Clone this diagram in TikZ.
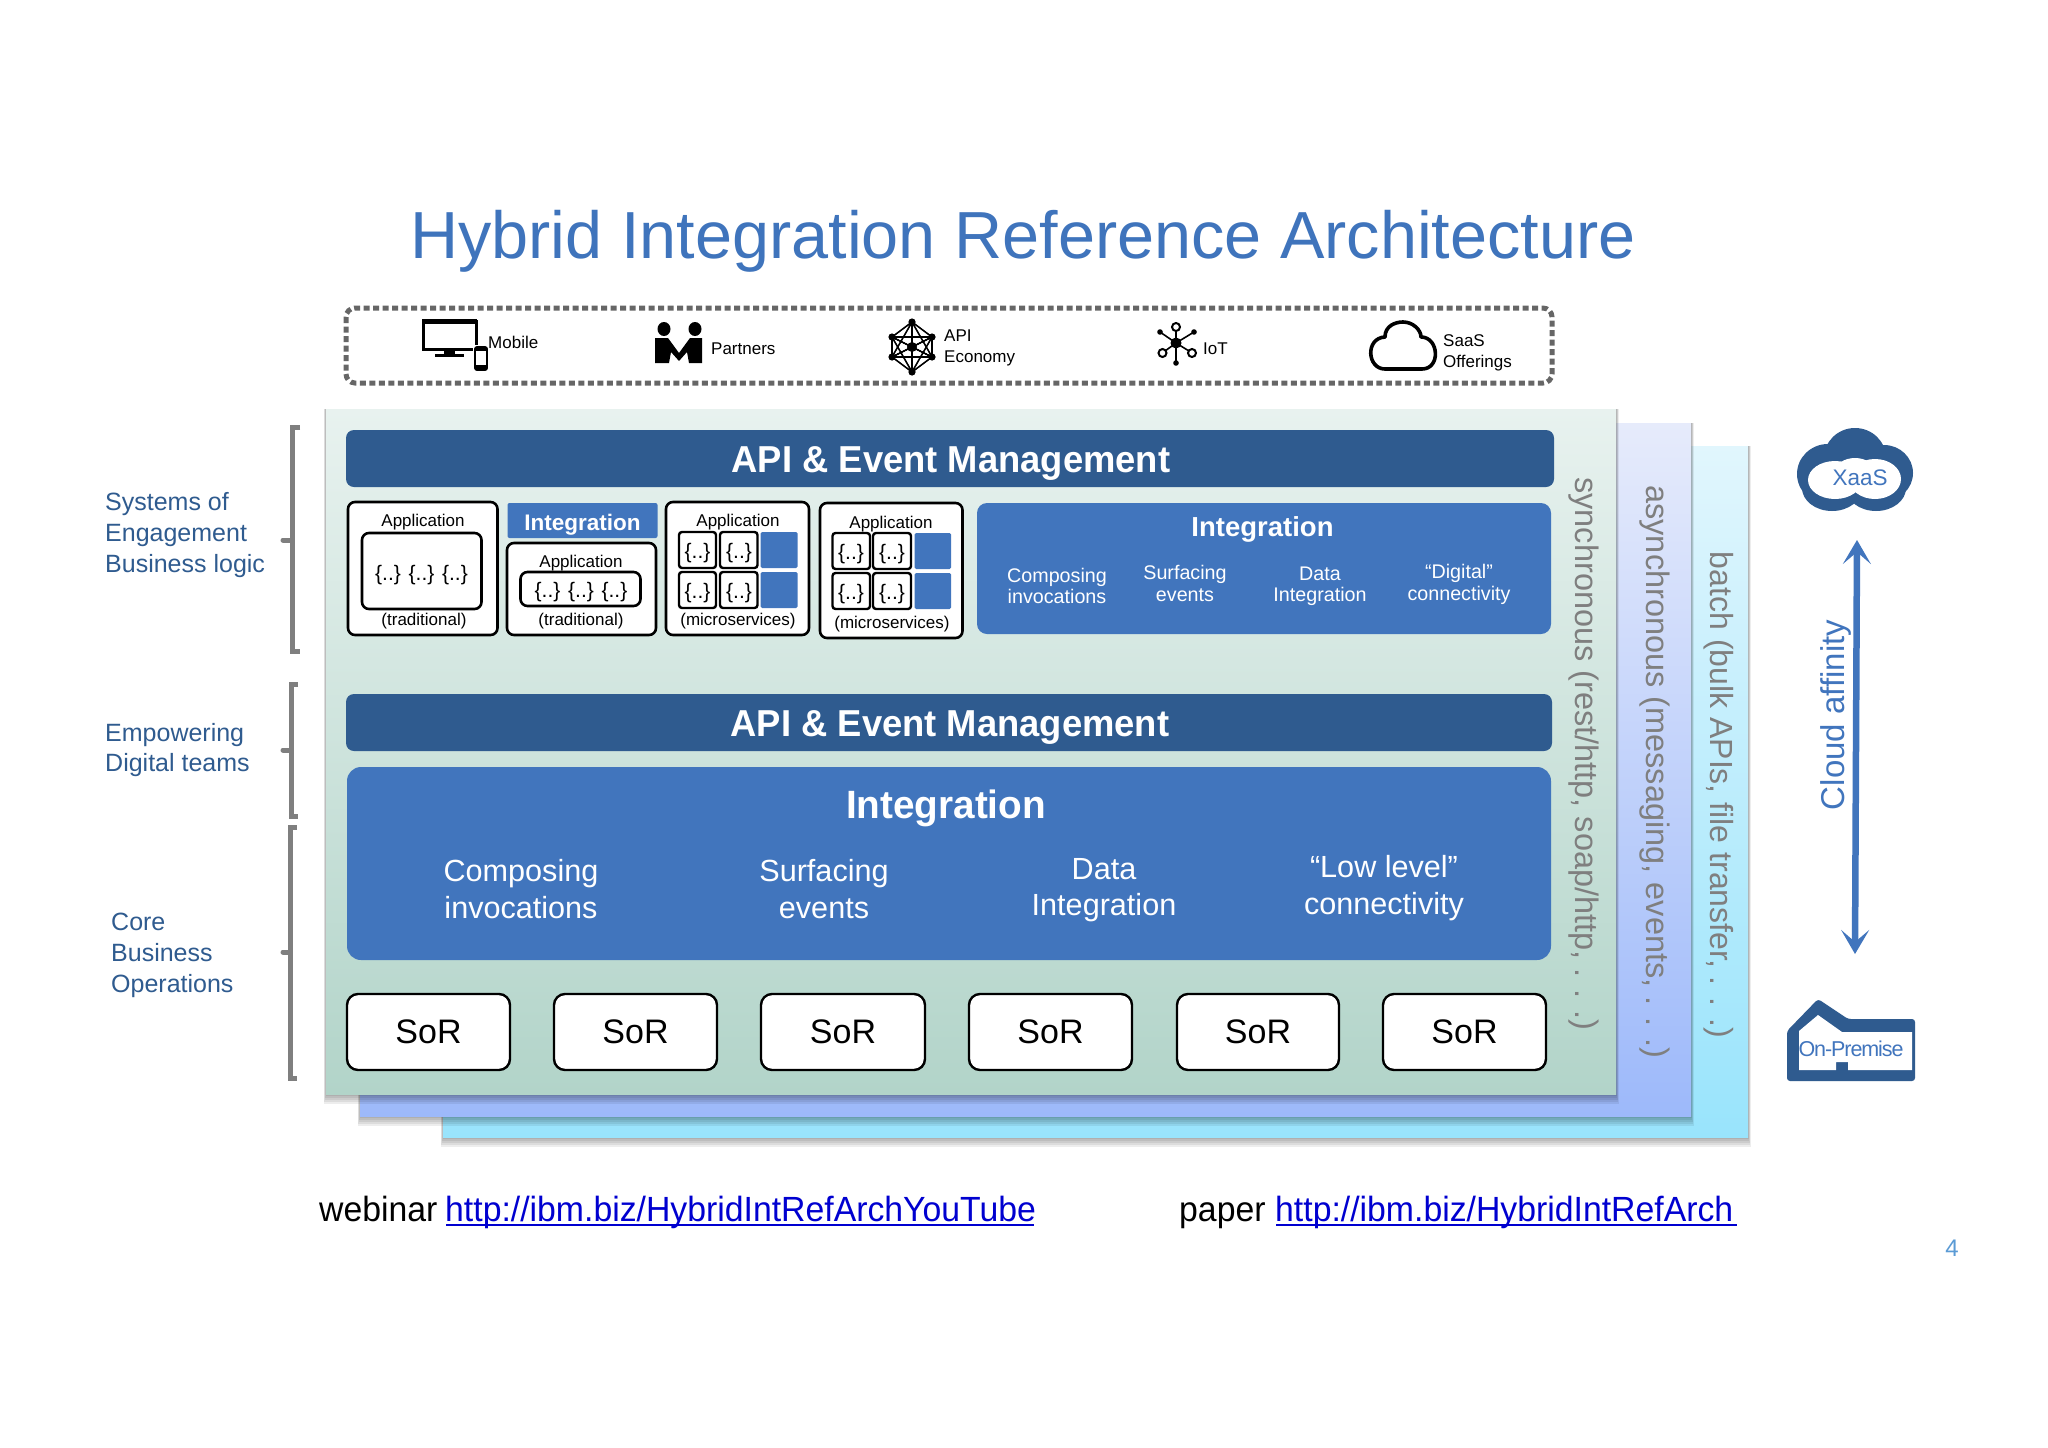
\documentclass[tikz,border=0pt]{standalone}
\usepackage{fontspec}
\setmainfont{Liberation Sans}
\usetikzlibrary{arrows.meta}
\definecolor{dkblue}{HTML}{2F5B8F}
\definecolor{midblue}{HTML}{4175BD}
\definecolor{sidegray}{HTML}{7F7F7F}
\definecolor{linkblue}{HTML}{0000D0}
\definecolor{titleblue}{HTML}{3F74BC}
\tikzset{
  fs/.style 2 args={font=\fontsize{#1}{#2}\selectfont},
  wt/.style={text=white,inner sep=0pt,align=center,yshift=-2.5pt},
  bt/.style={text=black,inner sep=0pt,align=center,yshift=-2.5pt},
  lbl/.style={text=dkblue,inner sep=0pt,align=left,anchor=west,fs={25}{31}},
  icontxt/.style={text=black,inner sep=0pt,align=left,anchor=west,fs={17}{21}},
  sidetxt/.style={text=sidegray,inner sep=0pt,rotate=-90,fs={32.5}{38}},
  bar/.style={fill=dkblue,rounded corners=8pt},
  intbox/.style={fill=midblue,rounded corners=10pt},
  wbox/.style={draw=black,fill=white,line width=2.6pt,rounded corners=7pt},
  cbox/.style={draw=black,fill=white,line width=2.4pt,rounded corners=3pt},
  sor/.style={draw=black,fill=white,line width=2.4pt,rounded corners=11pt},
  brk/.style={draw=sidegray,line width=5pt,line join=miter},
  tick/.style={draw=sidegray,line width=5pt,line cap=round},
  sq/.style={fill=midblue,rounded corners=1.5pt},
  nw/.style={line width=1.3pt,draw=black},
  reftxt/.style={inner sep=0pt,anchor=base west,font=\fontsize{35}{40}\selectfont\addfontfeature{FakeStretch=0.965}},
  apitxt/.style={text=white,inner sep=0pt,font=\fontsize{37.5}{44}\selectfont\bfseries\addfontfeature{FakeStretch=0.97}},
}
\newcommand{\shrect}[4]{%
  \foreach \i in {2,4,6,8,10}{%
    \fill[black,opacity=.07] (#1-.25*\i,#2) rectangle (#3+.3*\i,#4+\i);}%
}
\begin{document}
\begin{tikzpicture}[x=1pt,y=-1pt]
\useasboundingbox (0,0) rectangle (2048,1448);
\fill[white] (0,0) rectangle (2048,1448);

% title
\node[text=titleblue,inner sep=0pt,fs={66.6}{76}] (title) at (1023,241) {Hybrid Integration Reference Architecture};

% channel strip
\draw[draw=black!60,line width=5pt,dash pattern=on 6pt off 3.5pt,rounded corners=9pt] (346,308) rectangle (1552,383);

% mobile icon
\draw[black,line width=3pt] (423.5,321) rectangle (476,349);
\fill[black] (422,319) rectangle (477,324);
\fill[black] (444,351) rectangle (455,355);
\fill[black] (435,354) rectangle (464,357);
\fill[white] (473,345) rectangle (490,372);
\draw[black,line width=1.8pt,rounded corners=2pt] (475,347) rectangle (487,370);
\fill[black] (475,347) rectangle (487,351);
\fill[black] (475,365) rectangle (487,370);
\node[icontxt] (tmobile) at (488,342) {Mobile};

% partners icon
\fill[black] (664,329) ellipse (6.5 and 7);
\fill[black] (695,329) ellipse (6.5 and 7);
\fill[black] (655,338) -- (668,338) -- (679,353) -- (690,338) -- (702,338) -- (702,363) -- (689,363) -- (687,352) -- (679,361) -- (671,352) -- (669,363) -- (655,363) -- cycle;
\node[icontxt] (tpartners) at (711,349) {Partners};

% API economy icon
\foreach \a/\b in {912/322,892/337,892/357,912/372,932/357,932/337,912/347}{
  \foreach \c/\d in {912/322,892/337,892/357,912/372,932/357,932/337,912/347}{
    \draw[nw] (\a,\b) -- (\c,\d);}
  \fill[black] (\a,\b) circle (3.6);}
\fill[black] (912,347) circle (5);
\node[icontxt] (tapi) at (944,347.5) {API\\[0pt]Economy};

% IoT icon
\draw[black,line width=1.6pt] (1176,343) -- (1176,330) (1176,343) -- (1160,332) (1176,343) -- (1194,332) (1176,343) -- (1165,351) (1176,343) -- (1189,351) (1176,343) -- (1176,363);
\fill[black] (1176,343) circle (5.5);
\draw[black,line width=2pt,fill=white] (1176,327) circle (4);
\draw[black,line width=2pt,fill=white] (1162.5,353) circle (4);
\draw[black,line width=2pt,fill=white] (1192,353) circle (4);
\fill[black] (1160,332) circle (2.8);
\fill[black] (1194,332) circle (2.8);
\fill[black] (1176,363) circle (2.8);
\node[icontxt] (tiot) at (1203,349) {IoT};

% SaaS cloud icon
\draw[black,line width=3.6pt,fill=white,line join=round] (1385,369) .. controls (1367,369) and (1365,338) .. (1385,337) .. controls (1385,326) and (1395,322) .. (1403,322) .. controls (1413,322) and (1421,330) .. (1421,337) .. controls (1439,337) and (1441,369) .. (1422,369) -- cycle;
\node[icontxt] (tsaas) at (1443,353) {SaaS\\[0pt]Offerings};

% brackets
\draw[brk] (300,427) -- (292,427) -- (292,651) -- (300,651);
\draw[tick] (283,540) -- (292,540);
\draw[brk] (298,684) -- (291,684) -- (291,816) -- (298,816);
\draw[tick] (283,750) -- (291,750);
\draw[brk] (297,827) -- (290,827) -- (290,1078) -- (297,1078);
\draw[tick] (283,952) -- (290,952);

% left labels
\node[lbl] (lsys) at (105,535.5) {Systems of\\[0pt]Engagement\\[0pt]Business logic};
\node[lbl,fs={25}{29.5}] (lemp) at (105,750) {Empowering\\[0pt]Digital teams};
\node[lbl] (lcore) at (111,955) {Core\\[0pt]Business\\[0pt]Operations};

% stacked panels
\shrect{443}{446}{1748}{1137}
\shade[top color={rgb,255:red,225;green,246;blue,253},bottom color={rgb,255:red,153;green,228;blue,252}] (443,446) rectangle (1748,1137);
\shrect{360}{423}{1691}{1116}
\shade[top color={rgb,255:red,230;green,235;blue,251},bottom color={rgb,255:red,157;green,185;blue,250}] (360,423) rectangle (1691,1116);
\shrect{326}{409}{1616}{1094}
\shade[top color={rgb,255:red,232;green,242;blue,239},bottom color={rgb,255:red,178;green,212;blue,201}] (326,409) rectangle (1616,1094);

% side labels
\node[sidetxt] (tsync) at (1584,754) {synchronous (rest/http, soap/http, . . .)};
\node[sidetxt] (tasync) at (1655,772) {asynchronous (messaging, events, . . .)};
\node[sidetxt,fs={32}{38}] (tbatch) at (1719,795) {batch (bulk APIs, file transfer, . . .)};

% API bars
\fill[bar] (346,430) rectangle (1554,487);
\node[apitxt] (api1) at (951,463) {API \& Event Management};
\fill[bar] (346,694) rectangle (1552,751);
\node[apitxt] (api2) at (950,727) {API \& Event Management};

% application 1
\draw[wbox] (348,502) rectangle (497.5,635);
\draw[wbox] (362,533) rectangle (481.5,609);
\node[bt,fs={17}{20}] (a1t) at (423,520) {Application};
\node[bt,fs={21}{25}] (a1c) at (421.5,573) {\{..\} \{..\} \{..\}};
\node[bt,fs={17}{20}] (a1b) at (424,619) {(traditional)};

% application 2 with tab
\fill[midblue,rounded corners=2pt] (507.5,503) rectangle (657.5,538);
\node[wt,font=\fontsize{22.5}{26}\selectfont\bfseries] (a2i) at (582.5,522) {Integration};
\draw[wbox] (507,543) rectangle (656,635);
\draw[wbox] (520.5,572) rectangle (640.5,606);
\node[bt,fs={17}{20}] (a2t) at (581,561) {Application};
\node[bt,fs={21}{25}] (a2c) at (581,590) {\{..\} \{..\} \{..\}};
\node[bt,fs={17}{20}] (a2b) at (581,619) {(traditional)};

% application 3
\draw[wbox] (666,502) rectangle (809,635);
\node[bt,fs={17}{20}] (a3t) at (738,520) {Application};
\draw[cbox] (679,532) rectangle (716,568);
\node[bt,fs={21}{25}] (a3a) at (697.5,551) {\{..\}};
\draw[cbox] (720,532) rectangle (757.5,568);
\node[bt,fs={21}{25}] (a3b) at (739,551) {\{..\}};
\draw[cbox] (679,572) rectangle (716,608);
\node[bt,fs={21}{25}] (a3c) at (697.5,591) {\{..\}};
\draw[cbox] (720,572) rectangle (757.5,608);
\node[bt,fs={21}{25}] (a3d) at (739,591) {\{..\}};
\fill[sq] (760.5,532) rectangle (797.5,568);
\fill[sq] (760.5,572) rectangle (797.5,608);
\node[bt,fs={17}{20}] (a3m) at (738,619) {(microservices)};

% application 4
\draw[wbox] (820,503) rectangle (962.5,638);
\node[bt,fs={17}{20}] (a4t) at (891,522) {Application};
\draw[cbox] (832.5,533) rectangle (870,569);
\node[bt,fs={21}{25}] (a4a) at (851,552) {\{..\}};
\draw[cbox] (873,533) rectangle (911,569);
\node[bt,fs={21}{25}] (a4b) at (892,552) {\{..\}};
\draw[cbox] (832.5,573) rectangle (870,609);
\node[bt,fs={21}{25}] (a4c) at (851,592) {\{..\}};
\draw[cbox] (873,573) rectangle (911,609);
\node[bt,fs={21}{25}] (a4d) at (892,592) {\{..\}};
\fill[sq] (914.5,533) rectangle (951,569);
\fill[sq] (914.5,573) rectangle (951,609);
\node[bt,fs={17}{20}] (a4m) at (892,622) {(microservices)};

% small integration
\fill[intbox] (977,503) rectangle (1551,634);
\node[wt,font=\fontsize{27.5}{33}\selectfont\bfseries] (si) at (1262.5,527) {Integration};
\node[wt,fs={19.7}{21.5}] (si1) at (1057,583.5) {Composing\\[0pt]invocations};
\node[wt,fs={19.7}{21.5}] (si2) at (1185,581) {Surfacing\\[0pt]events};
\node[wt,fs={19.7}{21.5}] (si3) at (1320,584) {Data\\[0pt]Integration};
\node[wt,fs={19.7}{21.5}] (si4) at (1459,582) {“Digital”\\[0pt]connectivity};

% large integration
\fill[intbox,rounded corners=14pt] (347,767) rectangle (1551,960);
\node[wt,font=\fontsize{39.5}{46}\selectfont\bfseries\addfontfeature{FakeStretch=0.98}] (bi) at (946,805.5) {Integration};
\node[wt,fs={30.6}{36.5}] (bi1) at (521,886.5) {Composing\\[0pt]invocations};
\node[wt,fs={30.6}{36.5}] (bi2) at (824,886.5) {Surfacing\\[0pt]events};
\node[wt,fs={30.6}{36.5}] (bi3) at (1104,887.5) {Data\\[0pt]Integration};
\node[wt,fs={30.6}{36.5}] (bi4) at (1384,885.5) {“Low level”\\[0pt]connectivity};

% systems of record
\foreach \n/\a/\b in {1/347/510,2/554/717,3/761/925,4/969/1132,5/1177/1339,6/1383/1546}{
  \draw[sor] (\a,994) rectangle (\b,1070);
  \node[bt,fs={34}{40}] (sor\n) at ({(\a+\b)/2},1029.5) {SoR};
}

% XaaS cloud
\fill[dkblue] (1828,474) ellipse (31 and 30);
\fill[dkblue] (1855,458) ellipse (31 and 30);
\fill[dkblue] (1884,473) ellipse (29 and 28);
\fill[dkblue] (1832,488) ellipse (30 and 23);
\fill[dkblue] (1876,488) ellipse (30 and 23);
\fill[white] (1835,480) ellipse (27 and 19);
\fill[white] (1875,479) ellipse (26 and 20);
\fill[white] (1855,472) ellipse (20 and 14);
\node[inner sep=0pt,text=midblue,fs={22.5}{26}] (xaas) at (1860,478) {XaaS};

% on-premise
\fill[dkblue,rounded corners=3pt] (1787,1081) -- (1787,1031) -- (1818,999) -- (1848,1019) -- (1915,1019) -- (1915,1081) -- cycle;
\fill[white] (1799,1070) -- (1799,1031) -- (1818,1015) -- (1842,1032) -- (1912,1032) -- (1912,1070) -- (1848,1070) -- (1848,1062) -- (1836,1062) -- (1836,1070) -- cycle;
\node[inner sep=0pt,text=midblue,font=\fontsize{21.5}{26}\selectfont\addfontfeature{LetterSpace=-5}] (onprem) at (1851,1049) {On-Premise};

% cloud affinity
\coordinate (arrtop) at (1857,540);
\coordinate (arrbot) at (1855,954);
\draw[midblue,line width=6.5pt,{Stealth[length=24pt,width=28pt,inset=12pt]}-{Stealth[length=24pt,width=28pt,inset=12pt]}] (arrtop) -- (arrbot);
\node[inner sep=0pt,rotate=90,text=midblue,fs={33}{38}] (affin) at (1836,715) {Cloud affinity};

% references
\node[reftxt,text=black] (web) at (319,1221) {webinar};
\node[reftxt,text=linkblue] (weblink) at (445,1221) {http://ibm.biz/HybridIntRefArchYouTube};
\draw[linkblue,line width=2pt] (446,1225) -- (1034,1225);
\node[reftxt,text=black] (pap) at (1179,1221) {paper};
\node[reftxt,text=linkblue] (paplink) at (1275,1221) {http://ibm.biz/HybridIntRefArch};
\draw[linkblue,line width=2pt] (1276,1225) -- (1737,1225);
\node[inner sep=0pt,text={rgb,255:red,91;green,155;blue,213},fs={24}{28}] (pageno) at (1952,1248) {4};
\end{tikzpicture}
\end{document}
